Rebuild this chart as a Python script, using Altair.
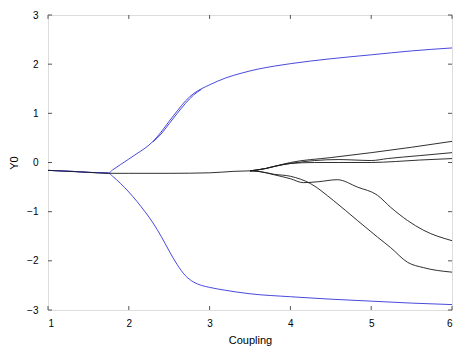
import altair as alt
import pandas as pd

# ---- data ----
blue_up_x = [1.0, 1.3, 1.5, 1.75, 1.8, 1.9, 2.0, 2.1, 2.2, 2.3, 2.4, 2.5, 2.6, 2.7, 2.8, 2.9, 3.0, 3.2, 3.4, 3.6, 3.8, 4.0, 4.5, 5.0, 5.5, 6.0]
blue_up_y = [-0.16, -0.18, -0.2, -0.21, -0.15, -0.04, 0.07, 0.18, 0.29, 0.43, 0.62, 0.84, 1.05, 1.25, 1.4, 1.5, 1.58, 1.72, 1.82, 1.9, 1.96, 2.01, 2.11, 2.19, 2.27, 2.33]
blue_up2_x = [2.3, 2.4, 2.5, 2.6, 2.7, 2.8, 2.9]
blue_up2_y = [0.42, 0.58, 0.79, 1.0, 1.2, 1.37, 1.49]
blue_lo_x = [1.0, 1.3, 1.5, 1.75, 1.8, 1.9, 2.0, 2.1, 2.2, 2.3, 2.4, 2.5, 2.6, 2.7, 2.8, 2.9, 3.0, 3.2, 3.5, 4.0, 4.5, 5.0, 5.5, 6.0]
blue_lo_y = [-0.16, -0.18, -0.2, -0.22, -0.28, -0.43, -0.6, -0.79, -1.0, -1.23, -1.5, -1.8, -2.08, -2.3, -2.43, -2.5, -2.54, -2.6, -2.67, -2.73, -2.78, -2.82, -2.86, -2.89]

base_x = [1.0, 1.5, 1.75, 2.0, 2.5, 3.0, 3.3, 3.5]
base_y = [-0.16, -0.2, -0.22, -0.22, -0.22, -0.21, -0.18, -0.17]
blk1_x = [3.5, 3.7, 3.8, 4.0, 4.5, 5.0, 5.5, 6.0]
blk1_y = [-0.17, -0.12, -0.08, 0.0, 0.1, 0.2, 0.31, 0.43]
blk2_x = [3.5, 3.7, 3.8, 4.0, 4.3, 4.6, 4.8, 5.0, 5.2, 5.6, 6.0]
blk2_y = [-0.17, -0.12, -0.08, -0.02, 0.04, 0.06, 0.05, 0.04, 0.08, 0.14, 0.2]
blk3_x = [3.5, 3.7, 3.8, 4.0, 4.3, 4.6, 5.0, 5.3, 5.6, 6.0]
blk3_y = [-0.17, -0.12, -0.08, -0.02, 0.0, 0.0, 0.0, 0.02, 0.05, 0.08]
blk4_x = [3.5, 3.6, 3.8, 4.0, 4.25, 4.53, 4.83, 5.08, 5.24, 5.45, 5.65, 6.0]
blk4_y = [-0.17, -0.18, -0.24, -0.28, -0.43, -0.77, -1.18, -1.52, -1.73, -2.03, -2.14, -2.23]
blk5_x = [3.5, 3.6, 3.8, 4.0, 4.16, 4.35, 4.58, 4.83, 5.08, 5.24, 5.45, 5.65, 6.0]
blk5_y = [-0.17, -0.18, -0.25, -0.33, -0.41, -0.39, -0.35, -0.5, -0.67, -0.91, -1.18, -1.38, -1.59]

x_ticks = [1, 2, 3, 4, 5, 6]
y_ticks = [-3, -2, -1, 0, 1, 2, 3]

series = [
    ("bu", "blue", blue_up_x, blue_up_y),
    ("bu2", "blue", blue_up2_x, blue_up2_y),
    ("bl", "blue", blue_lo_x, blue_lo_y),
    ("k0", "black", base_x, base_y),
    ("k1", "black", blk1_x, blk1_y),
    ("k2", "black", blk2_x, blk2_y),
    ("k3", "black", blk3_x, blk3_y),
    ("k4", "black", blk4_x, blk4_y),
    ("k5", "black", blk5_x, blk5_y),
]
rows = []
for name, col, xs_, ys_ in series:
    for i, (a, b) in enumerate(zip(xs_, ys_)):
        rows.append({"s": name, "c": col, "i": i, "x": a, "y": b})
df = pd.DataFrame(rows)

xs = alt.Scale(domain=[1, 6], nice=False, zero=False)
ys = alt.Scale(domain=[-3, 3], nice=False, zero=False)

lines = alt.Chart(df).mark_line(strokeWidth=1, opacity=0.9, interpolate="monotone").encode(
    x=alt.X("x:Q", scale=xs, title="Coupling",
            axis=alt.Axis(values=x_ticks, grid=False, domain=False, tickSize=0,
                          labelPadding=8, titlePadding=6, format="d",
                          titleFontWeight="normal")),
    y=alt.Y("y:Q", scale=ys, title="Y0",
            axis=alt.Axis(values=y_ticks, grid=False, domain=False, tickSize=0,
                          labelPadding=10, titlePadding=7, format="d",
                          titleFontWeight="normal")),
    detail="s:N",
    order="i:Q",
    color=alt.Color("c:N", scale=alt.Scale(domain=["blue", "black"], range=["#3535d8", "#1a1a1a"]), legend=None),
)

tick_rows = []
for t in x_ticks:
    tick_rows.append({"x": t, "x2": t, "y": -3, "y2": -2.92})
    tick_rows.append({"x": t, "x2": t, "y": 3, "y2": 2.92})
for t in y_ticks:
    tick_rows.append({"x": 1, "x2": 1.05, "y": t, "y2": t})
    tick_rows.append({"x": 6, "x2": 5.95, "y": t, "y2": t})
tdf = pd.DataFrame(tick_rows)
ticks = alt.Chart(tdf).mark_rule(color="#555", strokeWidth=1).encode(
    x=alt.X("x:Q", scale=xs), x2="x2:Q",
    y=alt.Y("y:Q", scale=ys), y2="y2:Q",
)

chart = alt.layer(ticks, lines).properties(
    width=404, height=295,
    autosize=alt.AutoSizeParams(type="none"),
    padding={"left": 40, "top": 7, "right": 10, "bottom": 40},
).configure_view(stroke="#555", strokeWidth=1).configure_axis(
    labelFont="Liberation Sans", titleFont="Liberation Sans",
    labelFontSize=12, titleFontSize=12, labelColor="#444", titleColor="#444",
).configure(background="white")

chart.save("out.html", embed_options={"renderer": "svg", "actions": False})
